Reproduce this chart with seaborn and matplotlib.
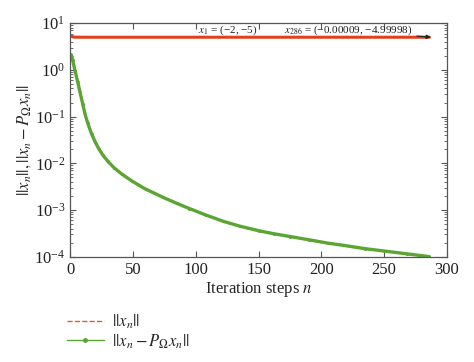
import numpy as np
import pandas as pd
import matplotlib
matplotlib.use("Agg")
import matplotlib.pyplot as plt
from matplotlib.lines import Line2D
import seaborn as sns

# values
norm_steps = [1, 2, 3, 5, 10, 50, 100, 150, 200, 250, 286]
norm_x = [5.385, 5.10, 5.03, 5.01, 5.0, 5.0, 5.0, 5.0, 5.0, 5.0, 5.0]

dist_steps = [1, 2, 4, 6, 8, 10, 12, 14, 17, 20, 23, 26, 30, 35, 41, 49, 55, 60,
              67, 74, 85, 95, 108, 122, 135, 150, 162, 175, 190, 205, 218, 235,
              250, 268, 286]
dist_x = [2.1, 1.6, 0.93, 0.55, 0.32, 0.186, 0.109, 0.072, 0.043, 0.0283,
          0.0200, 0.0150, 0.0110, 0.0080, 0.0059, 0.0042, 0.00335, 0.0028,
          0.00229, 0.00186, 0.00138, 0.00107, 0.00078, 0.00057, 0.00045,
          0.00036, 0.00031, 0.00027, 0.00023, 0.000195, 0.000174, 0.000148,
          0.000132, 0.000115, 0.0001]

x_ticks = [0, 50, 100, 150, 200, 250, 300]

label_norm = r"$||x_n||$"
label_dist = r"$||x_n - P_\Omega x_n||$"

red = "#e0401c"
green = "#5ba532"

sns.set_style("ticks")
plt.rcParams.update({
    "font.family": ["Liberation Serif", "DejaVu Serif"],
    "mathtext.fontset": "stix",
    "font.size": 12,
    "xtick.direction": "in",
    "ytick.direction": "in",
    "xtick.top": True,
    "ytick.right": True,
    "axes.edgecolor": "#555555",
    "axes.linewidth": 0.9,
    "xtick.major.size": 4,
    "ytick.major.size": 4,
    "ytick.minor.size": 2,
    "xtick.color": "#555555",
    "ytick.color": "#555555",
    "xtick.labelcolor": "#222222",
    "ytick.labelcolor": "#222222",
})

df_norm = pd.DataFrame({"n": norm_steps, "v": norm_x})
df_dist = pd.DataFrame({"n": dist_steps, "v": dist_x})

fig = plt.figure(figsize=(4.74, 3.62), dpi=100)
ax = fig.add_axes([0.148, 0.291, 0.795, 0.645])

sns.lineplot(data=df_norm, x="n", y="v", ax=ax, color=red, linewidth=2.2,
             legend=False)
sns.lineplot(data=df_dist, x="n", y="v", ax=ax, color=green, linewidth=2.4,
             marker="o", markersize=2.2, markeredgewidth=0, legend=False)

ax.set_yscale("log")
ax.set_ylim(1e-4, 10)
ax.set_xlim(0, 300)
ax.set_xticks(x_ticks)
ax.tick_params(axis="x", which="minor", bottom=False, top=False)
ax.tick_params(axis="both", labelsize=12)
ax.set_xlabel(r"Iteration steps $n$", labelpad=2)
ax.set_ylabel(r"$||x_n||, ||x_n - P_\Omega x_n||$", labelpad=1)

ax.text(102, 7.1, r"$x_1$ = (−2, −5)", fontsize=8, va="center", ha="left",
        color="#222222")
ax.annotate(r"$x_{286}$ = (−0.00009, −4.99998)", xy=(287, 5.0),
            xytext=(170, 7.1), fontsize=8, va="center", ha="left",
            color="#222222",
            arrowprops=dict(arrowstyle="-|>", color="#222222", lw=0.8,
                            mutation_scale=6, shrinkA=1, shrinkB=0))

handles = [
    Line2D([], [], color="#d9602a", linestyle="--", linewidth=1.0),
    Line2D([], [], color=green, linestyle="-", linewidth=1.0, marker="o",
           markersize=2.5),
]
fig.legend(handles, [label_norm, label_dist], loc="upper left",
           bbox_to_anchor=(0.138, 0.14), frameon=False, fontsize=12,
           handlelength=2.2, handletextpad=0.5, labelspacing=0.05,
           borderpad=0.1, borderaxespad=0)

fig.savefig("out.png", dpi=100)
